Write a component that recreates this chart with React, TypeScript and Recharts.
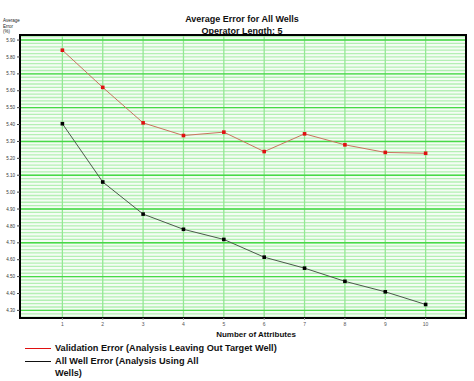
import { LineChart, Line, XAxis, YAxis, CartesianGrid, ReferenceArea } from 'recharts'

const attributes = [1, 2, 3, 4, 5, 6, 7, 8, 9, 10]
const validationError = [5.84, 5.62, 5.41, 5.335, 5.355, 5.24, 5.345, 5.28, 5.235, 5.23]
const allWellError = [5.405, 5.06, 4.87, 4.78, 4.72, 4.615, 4.55, 4.472, 4.41, 4.335]
const yTicks = [4.3, 4.4, 4.5, 4.6, 4.7, 4.8, 4.9, 5.0, 5.1, 5.2, 5.3, 5.4, 5.5, 5.6, 5.7, 5.8, 5.9]

const Y_MIN = 4.255
const Y_MAX = 5.93
const X_MIN = -0.05
const X_MAX = 11

// light minor lines every 0.02
const minorTicks: number[] = []
for (let i = 0; i <= 84; i++) {
  const v = Math.round((4.26 + i * 0.02) * 1000) / 1000
  if (v <= Y_MAX) minorTicks.push(v)
}

const data = attributes.map((a, i) => ({
  n: a,
  validation: validationError[i],
  allWell: allWellError[i],
}))

const FONT = '"Liberation Sans", Arial, sans-serif'

function squareDot(color: string) {
  return (props: any) => {
    const { cx, cy, index } = props
    if (cx == null || cy == null) return null
    return <rect key={index} x={cx - 1.8} y={cy - 1.8} width={3.6} height={3.6} fill={color} />
  }
}

function minorLines({ offset }: any) {
  const top = offset?.top ?? 35
  const h = offset?.height ?? 283
  return minorTicks.map((v) => top + ((Y_MAX - v) / (Y_MAX - Y_MIN)) * h)
}

export default function App() {
  return (
    <div style={{ position: 'absolute', left: 0, top: 0, width: 474, height: 381, background: '#fff', fontFamily: FONT }}>
      <div style={{ position: 'absolute', left: 0, top: 14, width: 484, textAlign: 'center', fontWeight: 'bold', fontSize: 9, lineHeight: '11.5px', color: '#111' }}>
        Average Error for All Wells
        <br />
        Operator Length: 5
      </div>
      <div style={{ position: 'absolute', left: 3, top: 18, fontSize: 4.5, lineHeight: '5.5px', color: '#222' }}>
        Average
        <br />
        Error
        <br />
        (%)
      </div>

      <LineChart width={474} height={381} data={data} margin={{ top: 35, right: 8, bottom: 53, left: 0 }}>
        <XAxis
          dataKey="n"
          type="number"
          domain={[X_MIN, X_MAX]}
          ticks={attributes}
          allowDataOverflow
          height={10}
          axisLine={false}
          tickSize={2}
          tickLine={{ stroke: '#999' }}
          tick={{ fontSize: 5, fill: '#555', fontFamily: FONT }}
        />
        <YAxis
          type="number"
          domain={[Y_MIN, Y_MAX]}
          ticks={yTicks}
          allowDataOverflow
          width={20}
          axisLine={false}
          tickSize={3}
          tickLine={{ stroke: '#444' }}
          tickFormatter={(v: number) => v.toFixed(2)}
          tick={{ fontSize: 4.5, fill: '#333', fontFamily: FONT }}
        />
        <CartesianGrid
          vertical={false}
          horizontalCoordinatesGenerator={minorLines}
          stroke="#b4efb4"
          strokeWidth={1.3}
          fill="#f4fdf4"
        />
        <CartesianGrid horizontal={false} stroke="#94e894" strokeWidth={1.3} />
        <CartesianGrid vertical={false} stroke="#47d947" strokeWidth={1.4} />
        <ReferenceArea
          x1={X_MIN}
          x2={X_MAX}
          y1={Y_MIN}
          y2={Y_MAX}
          fill="none"
          stroke="#000"
          strokeWidth={2}
          ifOverflow="visible"
        />
        <Line
          dataKey="validation"
          stroke="#c9735f"
          strokeWidth={1}
          dot={squareDot('#e01010')}
          activeDot={false}
          isAnimationActive={false}
        />
        <Line
          dataKey="allWell"
          stroke="#4b5a4b"
          strokeWidth={1}
          dot={squareDot('#000')}
          activeDot={false}
          isAnimationActive={false}
        />
      </LineChart>

      <div style={{ position: 'absolute', left: 0, top: 330, width: 512, textAlign: 'center', fontWeight: 'bold', fontSize: 8, color: '#111' }}>
        Number of Attributes
      </div>
      <div style={{ position: 'absolute', left: 25, top: 342, fontWeight: 'bold', fontSize: 9.2, lineHeight: '12.5px', color: '#111' }}>
        <div style={{ display: 'flex', alignItems: 'center' }}>
          <span style={{ display: 'inline-block', width: 26, height: 1.5, background: '#e01010', marginRight: 4 }} />
          <span>Validation Error (Analysis Leaving Out Target Well)</span>
        </div>
        <div style={{ display: 'flex', alignItems: 'flex-start' }}>
          <span style={{ display: 'inline-block', width: 26, height: 1.5, background: '#111', marginRight: 4, marginTop: 6 }} />
          <span>
            All Well Error (Analysis Using All
            <br />
            Wells)
          </span>
        </div>
      </div>
    </div>
  )
}
